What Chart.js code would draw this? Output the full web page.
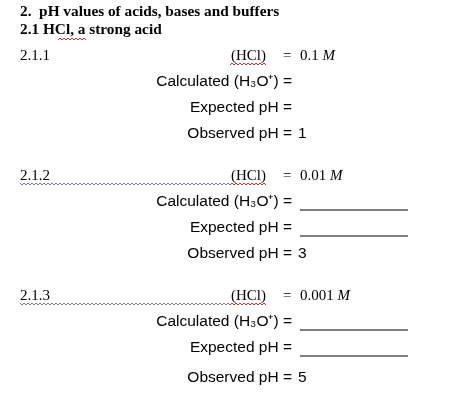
<!DOCTYPE html>
<html><head><meta charset="utf-8">
<script src="https://cdn.jsdelivr.net/npm/chart.js"></script>
<style>html,body{margin:0;padding:0;background:#fff}#w{width:476px;height:409px}</style>
</head><body><div id="w"><canvas id="c"></canvas></div>
<script>
const sections = ["2.1.1","2.1.2","2.1.3"];
const concentrations = ["0.1","0.01","0.001"];
const observedPH = [1,3,5];
const blankRows = [false,true,true];
const sectionTops = [56,176,296];

const plugin = {
  id:'doc',
  afterDraw(chart){
    const ctx = chart.ctx, xs = chart.scales.x, ys = chart.scales.y;
    const X = v=>xs.getPixelForValue(v), Y = v=>ys.getPixelForValue(v);
    ctx.save();
    ctx.fillStyle='#000'; ctx.textBaseline='middle';
    ctx.font='bold 15.3px "Liberation Serif"';
    ctx.textAlign='left';
    ctx.fillText('2.  pH values of acids, bases and buffers', X(20), Y(12));
    ctx.fillText('2.1 HCl, a strong acid', X(20), Y(30));
    const wavy=(x1,x2,y,col)=>{ctx.strokeStyle=col;ctx.lineWidth=1;ctx.beginPath();
      for(let x=x1;x<=x2;x+=2){ctx.lineTo(X(x),Y(y+((x/2)%2?1:-1)));}ctx.stroke();};
    wavy(58,86,39,'#c33');
    sections.forEach((s,i)=>{
      const t=sectionTops[i];
      const rows=[t,t+26,t+52,t+78+(i==2?4:0)];
      ctx.font='15px "Liberation Serif"'; ctx.textAlign='left';
      ctx.fillText(s, X(20), Y(rows[0]));
      ctx.textAlign='right';
      ctx.fillText('(HCl)', X(266), Y(rows[0]));
      ctx.textAlign='left';
      ctx.fillText('=', X(283), Y(rows[0]));
      ctx.fillText(concentrations[i]+' ', X(300), Y(rows[0]));
      const w=ctx.measureText(concentrations[i]+' ').width;
      ctx.font='italic 15px "Liberation Serif"';
      ctx.fillText('M', X(300)+w, Y(rows[0]));
      wavy(230,266,rows[0]+8,'#c33');
      if(i>0) wavy(20,230,rows[0]+8,'#77a');
      ctx.font='15.5px "Liberation Sans"'; ctx.textAlign='right';
      ctx.fillText('Calculated (H\u2083O\u207A) =', X(292), Y(rows[1]));
      ctx.fillText('Expected pH =', X(292), Y(rows[2]));
      ctx.fillText('Observed pH =', X(292), Y(rows[3]));
      ctx.textAlign='left';
      ctx.fillText(String(observedPH[i]), X(298), Y(rows[3]));
      if(blankRows[i]){
        ctx.strokeStyle='#000'; ctx.lineWidth=1;
        [rows[1],rows[2]].forEach(r=>{ctx.beginPath();ctx.moveTo(X(300),Y(r+8));ctx.lineTo(X(408),Y(r+8));ctx.stroke();});
      }
    });
    ctx.restore();
  }
};
new Chart(document.getElementById('c'),{
  type:'scatter',
  data:{datasets:[{data:observedPH.map((v,i)=>({x:-10,y:-10})),pointRadius:0}]},
  options:{responsive:true,maintainAspectRatio:false,animation:false,
    layout:{padding:0},
    plugins:{legend:{display:false},tooltip:{enabled:false}},
    scales:{x:{type:'linear',min:0,max:476,display:false},y:{type:'linear',min:0,max:409,reverse:true,display:false}}},
  plugins:[plugin]
});
</script></body></html>
